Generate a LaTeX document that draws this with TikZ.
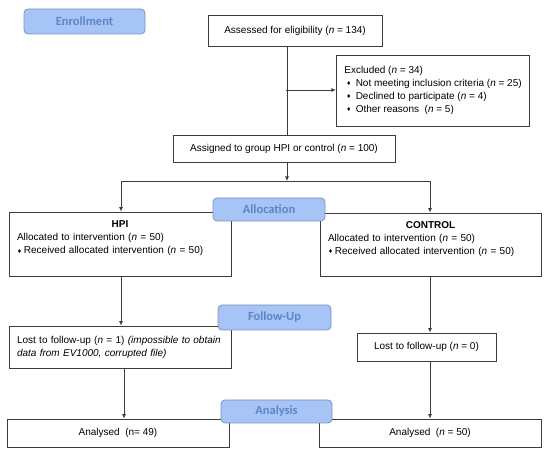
\documentclass[tikz,border=0pt]{standalone}
\usepackage{fontspec}
\setmainfont{Liberation Sans}
\newfontfamily\labfont{Carlito}
\newfontfamily\dejavu{DejaVu Sans}
\usetikzlibrary{arrows.meta}
\definecolor{labfill}{HTML}{A7C4F7}
\definecolor{labdraw}{HTML}{7C93BE}
\definecolor{labtext}{HTML}{5B86C6}
\definecolor{linec}{HTML}{3C3C3C}
\newcommand\dbul{{\dejavu\fontsize{5.5}{5.5}\selectfont\raisebox{0.8pt}{♦}}}
\tikzset{
  box/.style={draw=linec, line width=0.8pt, rectangle, inner xsep=8pt, inner ysep=0pt,
    font=\fontsize{10}{13}\selectfont, text=black},
  lbox/.style={box, align=left},
  cbox/.style={box, align=center},
  stage/.style={draw=labdraw, fill=labfill, line width=0.8pt, rounded corners=4pt,
    font=\labfont\bfseries\fontsize{12.5}{14}\selectfont, text=labtext, inner sep=0pt},
  arr/.style={draw=linec, line width=0.8pt, -{Latex[length=4.5pt,width=4pt]}},
  ln/.style={draw=linec, line width=0.8pt},
}
\begin{document}
\begin{tikzpicture}[x=1pt,y=-1pt]
\useasboundingbox (0,0) rectangle (550,457);
% boxes
\node[cbox, minimum width=174pt, minimum height=31pt] (assess) at (295,30.5)
  {Assessed for eligibility (\textit{n} = 134)};
\node[lbox, minimum width=192pt, minimum height=71pt] (excl) at (433,90.5)
  {Excluded (\textit{n} = 34)\\
   \hspace*{2pt}\dbul\hspace{4.5pt}Not meeting inclusion criteria (\textit{n} = 25)\\
   \hspace*{2pt}\dbul\hspace{4.5pt}Declined to participate (\textit{n} = 4)\\
   \hspace*{2pt}\dbul\hspace{4.5pt}Other reasons\ \ (\textit{n} = 5)};
\node[lbox, minimum width=222pt, minimum height=64pt, text width=206pt] (hpi) at (120,244)
  {\makebox[206pt]{\textbf{HPI}}\\
   Allocated to intervention (\textit{n} = 50)\\
   \dbul\hspace{2pt}Received allocated intervention (\textit{n} = 50)\\ \mbox{}};
\node[lbox, minimum width=221pt, minimum height=63pt, text width=205pt] (ctrl) at (430.5,244.5)
  {\makebox[205pt]{\textbf{CONTROL}}\\
   Allocated to intervention (\textit{n} = 50)\\
   \dbul\hspace{2pt}Received allocated intervention (\textit{n} = 50)\\ \mbox{}};
\node[cbox, minimum width=222pt, minimum height=27pt] (assign) at (284,148.5)
  {Assigned to group HPI or control (\textit{n} = 100)};
\node[lbox, minimum width=222pt, minimum height=42pt, text width=206pt] (lostH) at (120,347)
  {Lost to follow-up (\textit{n} = 1) \textit{(impossible to obtain}\\
   \textit{data from EV1000, corrupted file)}};
\node[cbox, minimum width=139pt, minimum height=28pt] (lostC) at (426.5,347)
  {Lost to follow-up (\textit{n} = 0)};
\node[cbox, minimum width=222pt, minimum height=28pt] (anH) at (118,433)
  {Analysed\ \ (n= 49)};
\node[cbox, minimum width=222pt, minimum height=28pt] (anC) at (430,433)
  {Analysed\ \ (\textit{n} = 50)};
% connectors
\coordinate (split) at (121,181);
\coordinate (splitR) at (430,181);
\draw[ln] (assess.south -| 287,0) -- (assign.north -| 287,0);
\draw[arr] (excl.west |- 287,90) ++(-50,0) -- (excl.west |- 287,90);
\draw[arr] (assign.south -| 287,0) -- (287,181);
\draw[ln] (split) -- (splitR);
\draw[arr] (split) -- (hpi.north -| split);
\draw[arr] (splitR) -- (ctrl.north -| splitR);
\draw[arr] (hpi.south -| split) -- (lostH.north -| split);
\draw[arr] (ctrl.south -| splitR) -- (lostC.north -| splitR);
\draw[arr] (lostH.south -| 124,0) -- (anH.north -| 124,0);
\draw[arr] (lostC.south -| splitR) -- (anC.north -| splitR);
% stage labels
\node[stage, minimum width=121pt, minimum height=25pt] (enroll) at (84.5,21.5) {Enrollment};
\node[stage, minimum width=112pt, minimum height=23pt] (alloc) at (269,209.5) {Allocation};
\node[stage, minimum width=113pt, minimum height=25pt] (follow) at (274.5,317.5) {Follow-Up};
\node[stage, minimum width=111pt, minimum height=23pt] (analysis) at (276.5,411.5) {Analysis};
\end{tikzpicture}
\end{document}
